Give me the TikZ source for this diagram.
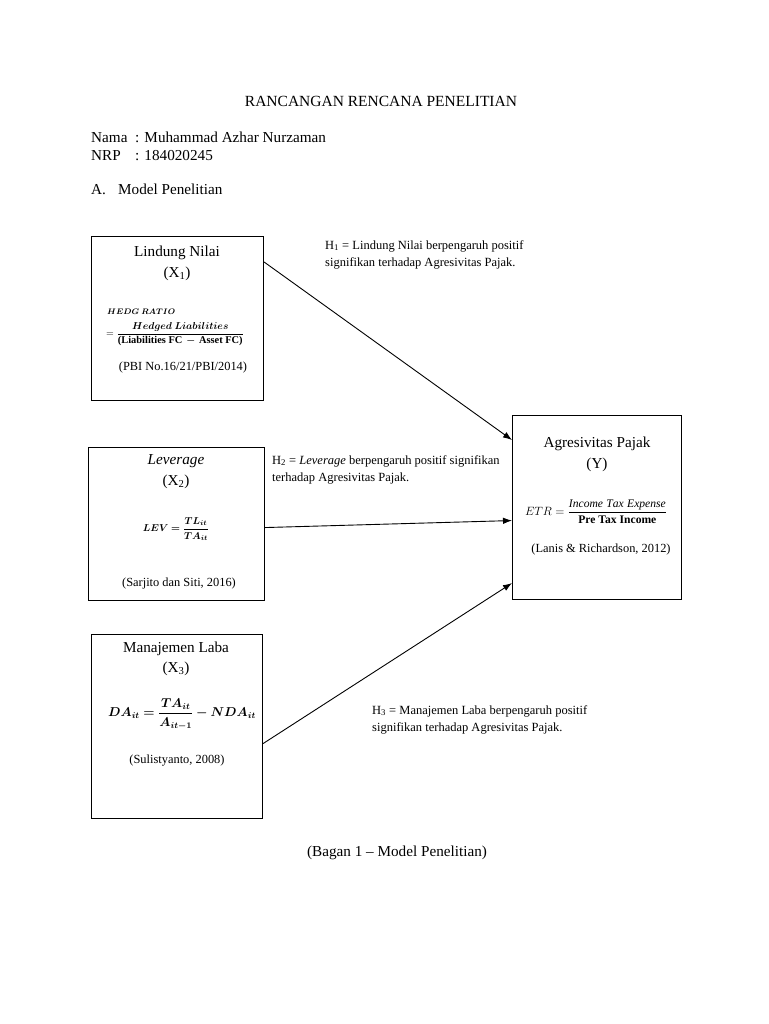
\documentclass[tikz,border=0pt]{standalone}
\usepackage{amsmath,bm}
\usepackage{graphicx}
\usepackage{fontspec}
\setmainfont{Liberation Serif}
\usetikzlibrary{arrows.meta}
\begin{document}
\begin{tikzpicture}[x=1pt,y=-1pt,
  box/.style={draw, line width=1.1pt, anchor=north west, inner sep=0pt},
  lbl/.style={font=\fontsize{15.2}{17}\selectfont, inner sep=0pt},
  hdr/.style={font=\fontsize{15.2}{17}\selectfont, inner sep=0pt, anchor=base west},
  cite/.style={font=\fontsize{12.4}{14}\selectfont, inner sep=0pt},
  hyp/.style={font=\fontsize{12.5}{17.5}\selectfont, align=left, anchor=north west, inner sep=0pt},
  link/.style={-{Latex[length=9pt,width=6.5pt]}, line width=0.9pt}]
\useasboundingbox[fill=white] (0,0) rectangle (768,1024);

% header
\node[lbl, font=\fontsize{15.5}{17}\selectfont] (title) at (381,101) {RANCANGAN RENCANA PENELITIAN};
\node[hdr] (nama) at (91,143) {Nama};
\node[hdr] (namav) at (135,143) {: Muhammad Azhar Nurzaman};
\node[hdr] (nrp) at (91,161) {NRP};
\node[hdr] (nrpv) at (135,161) {: 184020245};
\node[hdr] (secA) at (91,195) {A.};
\node[hdr] (secAt) at (118,195) {Model Penelitian};

% boxes
\node[box, minimum width=172pt, minimum height=164pt] (x1) at (91,236) {};
\node[box, minimum width=176pt, minimum height=153pt] (x2) at (88,447) {};
\node[box, minimum width=171pt, minimum height=184pt] (x3) at (91,634) {};
\node[box, minimum width=169pt, minimum height=184pt] (y) at (512,415) {};

% box X1
\node[lbl] (x1a) at (177,253) {Lindung Nilai};
\node[lbl] (x1b) at (177,274) {(X\textsubscript{1})};
\node[inner sep=0pt, anchor=west] (x1c) at (107,312) {\fontsize{8.5}{10}\selectfont $\bm{HEDG\;RATIO}$};
\node[inner sep=0pt, anchor=west] (x1d) at (106,334) {\fontsize{10.4}{12}\selectfont $=\dfrac{\bm{Hedged\ Liabilities}}{\textbf{(Liabilities FC}\,\bm{-}\,\textbf{Asset FC)}}$};
\node[cite] (x1e) at (183,368) {(PBI No.16/21/PBI/2014)};

% box X2
\node[lbl] (x2a) at (176,461) {\itshape Leverage};
\node[lbl] (x2b) at (176,482) {(X\textsubscript{2})};
\node[inner sep=0pt] (x2c) at (176,529) {\fontsize{10.4}{12}\selectfont $\bm{LEV = \dfrac{TL_{it}}{TA_{it}}}$};
\node[cite] (x2d) at (179,584) {(Sarjito dan Siti, 2016)};

% box X3
\node[lbl] (x3a) at (176,649) {Manajemen Laba};
\node[lbl] (x3b) at (176,669) {(X\textsubscript{3})};
\node[inner sep=0pt] (x3c) at (182,714) {\scalebox{1.07}{\fontsize{12}{15}\selectfont $\bm{DA_{it} = \dfrac{TA_{it}}{A_{it-1}} - NDA_{it}}$}};
\node[cite] (x3d) at (177,761) {(Sulistyanto, 2008)};

% box Y
\node[lbl] (ya) at (597,444) {Agresivitas Pajak};
\node[lbl] (yb) at (597,465) {(Y)};
\node[inner sep=0pt] (yc) at (596,512) {\fontsize{11.6}{13}\selectfont $ETR=\dfrac{\mathit{Income\;Tax\;Expense}}{\textbf{Pre Tax Income}}$};
\node[cite] (yd) at (601,550) {(Lanis \& Richardson, 2012)};

% hypotheses
\node[hyp] (h1) at (325,240) {H\textsubscript{1} = Lindung Nilai berpengaruh positif\\signifikan terhadap Agresivitas Pajak.};
\node[hyp] (h2) at (272,455) {H\textsubscript{2} = \textit{Leverage} berpengaruh positif signifikan\\terhadap Agresivitas Pajak.};
\node[hyp] (h3) at (372,705) {H\textsubscript{3} = Manajemen Laba berpengaruh positif\\signifikan terhadap Agresivitas Pajak.};

% arrows
\draw[link] ([yshift=-26pt]x1.north east) -- ([yshift=-25pt]y.north west);
\draw[link] ([yshift=-3.5pt]x2.east) -- ([yshift=-13pt]y.west);
\draw[link] ([yshift=-17pt]x3.east) -- ([yshift=17pt]y.south west);

% caption
\node[lbl] (cap) at (397,853) {(Bagan 1 -- Model Penelitian)};
\end{tikzpicture}
\end{document}
